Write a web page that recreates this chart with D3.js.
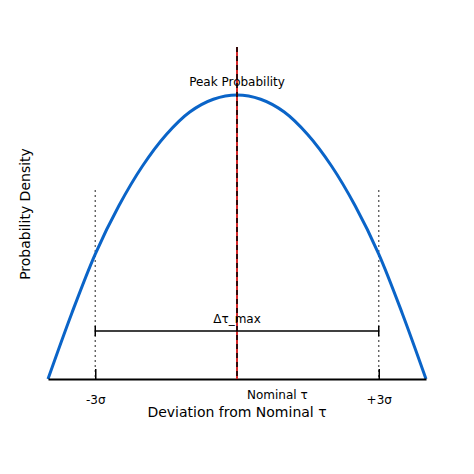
<!DOCTYPE html>
<html><head><meta charset="utf-8">
<script src="https://cdn.jsdelivr.net/npm/d3@7"></script>
<style>body{margin:0;background:#fff}text{font-family:"DejaVu Sans",sans-serif}</style>
</head><body><div id="chart"></div>
<script>
// deviation in sigma units, relative density
var sigmaX = [-4, -3.5, -3, -2.5, -2, -1.5, -1, -0.5, 0, 0.5, 1, 1.5, 2, 2.5, 3, 3.5, 4];
var density = [0, 0.23, 0.44, 0.61, 0.75, 0.86, 0.94, 0.985, 1.0, 0.985, 0.94, 0.86, 0.75, 0.61, 0.44, 0.23, 0];
var tickVals = [-3, 3];
var tickLabels = ['-3σ', '+3σ'];

var W = 474, H = 474;
var svg = d3.select('#chart').append('svg').attr('width', W).attr('height', H);
var x = d3.scaleLinear().domain([-4, 4]).range([48, 426]);
var y = d3.scaleLinear().domain([0, 1]).range([379, 95]);

// sigma guide lines
tickVals.forEach(function (v) {
    svg.append('line').attr('x1', x(v)).attr('x2', x(v)).attr('y1', 190).attr('y2', 379)
        .style('stroke', '#555').style('stroke-width', 1.3).style('stroke-dasharray', '2,3');
});

var line = d3.line().x(function (d, i) { return x(sigmaX[i]); }).y(function (d) { return y(d); }).curve(d3.curveCatmullRom);
svg.append('path').datum(density).attr('d', line)
    .style('fill', 'none').style('stroke', '#0a64c8').style('stroke-width', 3);

// baseline axis
var axis = d3.axisBottom(x).tickValues(tickVals).tickFormat(function (d, i) { return tickLabels[i]; })
    .tickSizeInner(-10).tickSizeOuter(0).tickPadding(16);
var g = svg.append('g').attr('transform', 'translate(0,379)').call(axis);
g.select('.domain').style('stroke-width', 2);
g.selectAll('.tick line').style('stroke-width', 1.5);
g.selectAll('text').style('font-size', '12px').style('font-family', 'DejaVu Sans');

// nominal line
svg.append('line').attr('x1', x(0)).attr('x2', x(0)).attr('y1', 47).attr('y2', 379)
    .style('stroke', '#d62728').style('stroke-width', 2);
svg.append('line').attr('x1', x(0)).attr('x2', x(0)).attr('y1', 47).attr('y2', 379)
    .style('stroke', '#000').style('stroke-width', 1.5).style('stroke-dasharray', '5,4');

// delta bar
var by = 331;
svg.append('line').attr('x1', x(-3)).attr('x2', x(3)).attr('y1', by).attr('y2', by).style('stroke', '#000').style('stroke-width', 1.5);
[-3, 3].forEach(function (v) {
    svg.append('line').attr('x1', x(v)).attr('x2', x(v)).attr('y1', by - 5).attr('y2', by + 5).style('stroke', '#000').style('stroke-width', 1.5);
});
svg.append('text').attr('x', x(0)).attr('y', 323).attr('text-anchor', 'middle').style('font-size', '12px').text('Δτ_max');
svg.append('text').attr('x', x(0)).attr('y', 86).attr('text-anchor', 'middle').style('font-size', '12px').text('Peak Probability');
svg.append('text').attr('x', 247).attr('y', 399).style('font-size', '12px').text('Nominal τ');

svg.append('text').attr('x', x(0)).attr('y', 417).attr('text-anchor', 'middle').style('font-size', '14px').text('Deviation from Nominal τ');
svg.append('text').attr('transform', 'translate(30,214) rotate(-90)').attr('text-anchor', 'middle').style('font-size', '14px').text('Probability Density');
</script></body></html>
